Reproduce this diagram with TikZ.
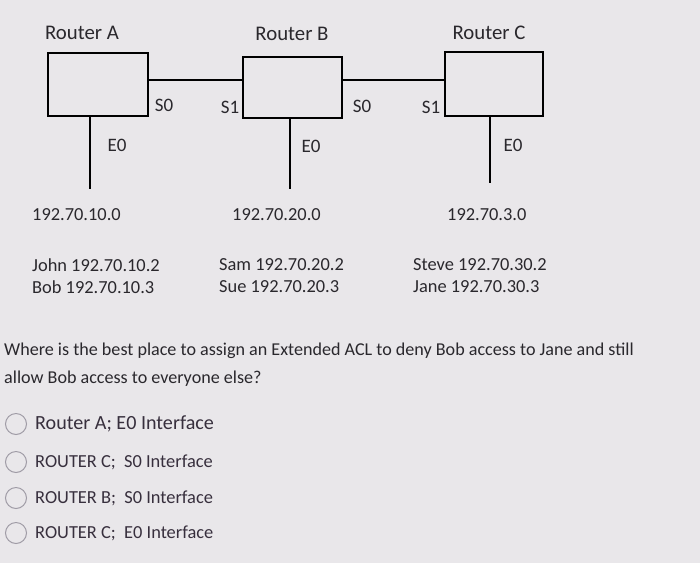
\documentclass[tikz,border=0pt]{standalone}
\usepackage{fontspec}
\setmainfont{Carlito}
\definecolor{bg}{HTML}{E9E7EA}
\definecolor{ink}{HTML}{2A282D}
\definecolor{optink}{HTML}{372F3D}
\definecolor{ring}{HTML}{A09CA6}
\begin{document}
\begin{tikzpicture}[x=1pt,y=-1pt,
  router/.style={draw=black,line width=2.8pt,minimum width=#1,inner sep=0pt},
  link/.style={draw=black,line width=2.8pt},
  lbl/.style={text=ink,inner sep=0pt,font=\fontsize{20.8}{24}\selectfont},
  ifc/.style={text=ink,inner sep=0pt,font=\fontsize{19}{22}\selectfont},
  ip/.style={text=ink,inner sep=0pt,anchor=west,font=\fontsize{18.4}{22}\selectfont},
  qtext/.style={text=ink,inner sep=0pt,anchor=west,font=\fontsize{18.1}{22}\selectfont},
  opt/.style={text=optink,inner sep=0pt,anchor=west,font=\fontsize{18.4}{22}\selectfont},
  optbig/.style={opt,font=\fontsize{20.1}{24}\selectfont},
  radio/.style={circle,draw=ring,line width=1pt,minimum size=21pt,inner sep=0pt}]
\fill[bg] (0,0) rectangle (700,563);
\useasboundingbox (0,0) rectangle (700,563);
% routers
\node[router=100pt,minimum height=63pt] (A) at (98,84.5) {};
\node[router=99pt,minimum height=61pt] (B) at (292.5,87.5) {};
\node[router=98pt,minimum height=64pt] (C) at (494,84) {};
% serial links
\coordinate (ly) at (0,80);
\draw[link] (A.east |- ly) -- (B.west |- ly);
\draw[link] (B.east |- ly) -- (C.west |- ly);
% ethernet drops
\coordinate (ea) at (90,189);
\coordinate (eb) at (290,189);
\coordinate (ec) at (490,183);
\draw[link] (A.south -| ea) -- (ea);
\draw[link] (B.south -| eb) -- (eb);
\draw[link] (C.south -| ec) -- (ec);
% labels
\node[lbl] (la) at (82,33) {Router A};
\node[lbl] (lb) at (292,34) {Router B};
\node[lbl] (lc) at (489,33) {Router C};
\node[ifc] (sa) at (164,105) {S0};
\node[ifc] (s1b) at (230,107) {S1};
\node[ifc] (ea0) at (117,145) {E0};
\node[ifc] (eb0) at (311,146) {E0};
\node[ifc] (s0b) at (362,106) {S0};
\node[ifc] (s1c) at (431,107) {S1};
\node[ifc] (ec0) at (513,145) {E0};
% networks
\node[ip] (na) at (32,215) {192.70.10.0};
\node[ip] (nb) at (232,215) {192.70.20.0};
\node[ip] (nc) at (447,215) {192.70.3.0};
\node[ip] (h1) at (32,265) {John 192.70.10.2};
\node[ip] (h2) at (32,287) {Bob 192.70.10.3};
\node[ip] (h3) at (219,265) {Sam 192.70.20.2};
\node[ip] (h4) at (219,287) {Sue 192.70.20.3};
\node[ip] (h5) at (413,265) {Steve 192.70.30.2};
\node[ip] (h6) at (413,287) {Jane 192.70.30.3};
% question
\node[qtext] (q1) at (4,351) {Where is the best place to assign an Extended ACL to deny Bob access to Jane and still};
\node[qtext] (q2) at (4,379) {allow Bob access to everyone else?};
% options
\node[radio] (r1) at (16,424) {};
\node[radio] (r2) at (16,462) {};
\node[radio] (r3) at (16,498) {};
\node[radio] (r4) at (16,533) {};
\node[optbig] (o1) at (35,424) {Router A; E0 Interface};
\node[opt] (o2) at (35,462) {ROUTER C;\ \ S0 Interface};
\node[opt] (o3) at (35,498) {ROUTER B;\ \ S0 Interface};
\node[opt] (o4) at (35,533) {ROUTER C;\ \ E0 Interface};
\end{tikzpicture}
\end{document}
